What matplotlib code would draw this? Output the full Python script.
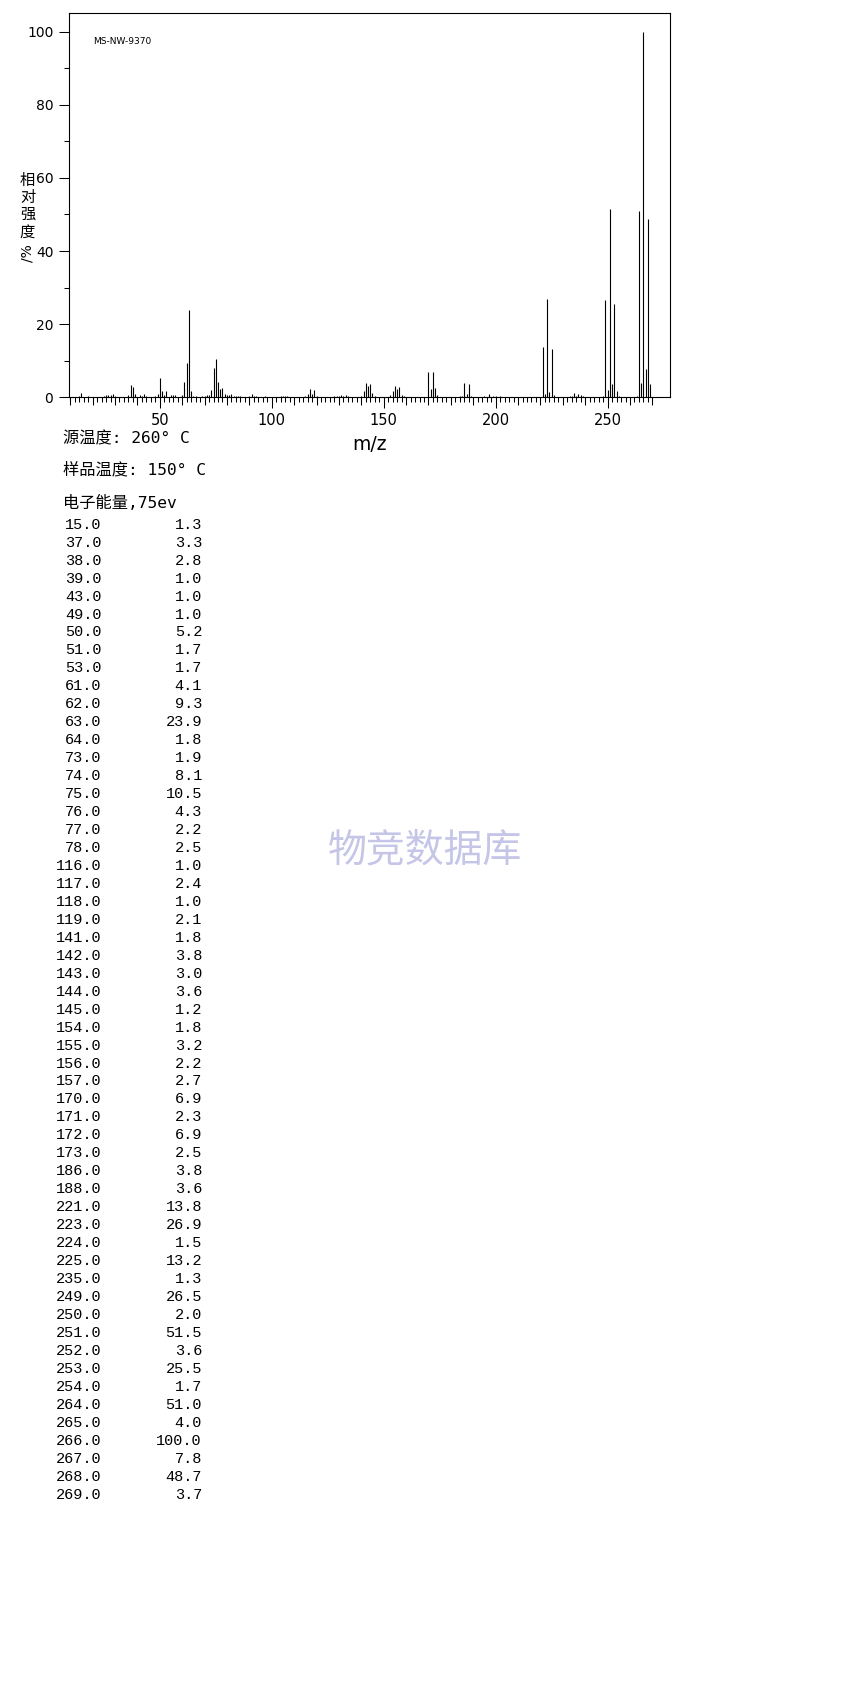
import matplotlib
matplotlib.use('Agg')
import matplotlib.pyplot as plt
from matplotlib.ticker import FixedLocator, NullFormatter

# ---------------- data ----------------
table_mz = [15, 37, 38, 39, 43, 49, 50, 51, 53, 61, 62, 63, 64, 73, 74, 75, 76, 77, 78,
            116, 117, 118, 119, 141, 142, 143, 144, 145, 154, 155, 156, 157,
            170, 171, 172, 173, 186, 188, 221, 223, 224, 225, 235,
            249, 250, 251, 252, 253, 254, 264, 265, 266, 267, 268, 269]
table_int = [1.3, 3.3, 2.8, 1.0, 1.0, 1.0, 5.2, 1.7, 1.7, 4.1, 9.3, 23.9, 1.8, 1.9, 8.1, 10.5, 4.3, 2.2, 2.5,
             1.0, 2.4, 1.0, 2.1, 1.8, 3.8, 3.0, 3.6, 1.2, 1.8, 3.2, 2.2, 2.7,
             6.9, 2.3, 6.9, 2.5, 3.8, 3.6, 13.8, 26.9, 1.5, 13.2, 1.3,
             26.5, 2.0, 51.5, 3.6, 25.5, 1.7, 51.0, 4.0, 100.0, 7.8, 48.7, 3.7]

# small peaks (< 1 %) visible in the plot but not listed
minor_mz = [14, 18, 25, 26, 27, 28, 29, 30, 36, 41, 42, 44, 48, 52, 55, 56, 57, 60, 65, 66,
            69, 70, 71, 72, 79, 80, 81, 82, 83, 84, 85, 86, 90, 91, 92, 93, 97,
            104, 105, 106, 107, 115, 120, 128, 129, 130, 131, 132, 133, 134, 140, 146,
            153, 158, 159, 174, 184, 185, 187, 189, 195, 197, 199, 200, 202,
            222, 226, 233, 234, 236, 237, 238, 239, 248, 255, 263]
minor_int = [0.4, 0.3, 0.4, 0.6, 0.6, 0.6, 0.8, 0.4, 0.6, 0.5, 0.3, 0.4, 0.4, 0.7, 0.5, 0.5, 0.5, 0.6, 0.4, 0.3,
             0.3, 0.3, 0.5, 0.6, 0.8, 0.7, 0.5, 0.8, 0.4, 0.4, 0.4, 0.4, 0.4, 0.8, 0.4, 0.4, 0.3,
             0.3, 0.4, 0.4, 0.3, 0.4, 0.4, 0.4, 0.4, 0.4, 0.5, 0.3, 0.5, 0.3, 0.4, 0.4,
             0.6, 0.5, 0.3, 0.6, 0.3, 0.4, 0.8, 0.3, 0.3, 0.9, 0.4, 0.4, 0.3,
             0.9, 0.6, 0.4, 0.3, 0.3, 0.8, 0.5, 0.3, 0.3, 0.3, 0.3]

y_ticks = [0, 20, 40, 60, 80, 100]
x_ticks = [50, 100, 150, 200, 250]
x_mid_ticks = list(range(10, 271, 10))
x_minor_ticks = list(range(10, 271, 2))
y_minor_ticks = list(range(0, 101, 10))

header_lines = ["源温度: 260° C", "样品温度: 150° C", "电子能量,75ev"]
sample_id = "MS-NW-9370"
watermark = "物竞数据库"
ylabel_chars = "相对强度"
ylabel_unit = "/%"
xlabel = "m/z"

# ---------------- figure ----------------
W, H = 850, 1701
fig = plt.figure(figsize=(8.5, 17.01), dpi=100)
fig.patch.set_facecolor('white')


def fx(px):
    return px / W


def fy(py):
    return 1 - py / H


CJK = ['Noto Sans CJK SC', 'DejaVu Sans']
MONO_CJK = ['DejaVu Sans Mono', 'Noto Sans CJK SC']

ax = fig.add_axes([fx(69.3), fy(397.3), fx(670.3) - fx(69.3), fy(13.3) - fy(397.3)])
ax.vlines(table_mz + minor_mz, 0, table_int + minor_int, color='black', linewidth=0.8)
ax.set_xlim(9.6, 278)
ax.set_ylim(0, 105)

for s in ax.spines.values():
    s.set_linewidth(0.8)
    s.set_color('black')

ax.set_xticks(x_ticks)
ax.set_xticklabels([str(t) for t in x_ticks])
ax.xaxis.set_minor_locator(FixedLocator(x_minor_ticks))
ax.set_yticks(y_ticks)
ax.set_yticklabels([str(t) for t in y_ticks])
ax.yaxis.set_minor_locator(FixedLocator(y_minor_ticks))
ax.yaxis.set_minor_formatter(NullFormatter())
ax.xaxis.set_minor_formatter(NullFormatter())

ax.tick_params(axis='x', which='major', length=7.9, width=0.75, pad=3.4, labelsize=10.5)
ax.tick_params(axis='x', which='minor', length=3.6, width=0.75)
ax.tick_params(axis='y', which='major', length=7.2, width=0.75, pad=4.3, labelsize=10)
ax.tick_params(axis='y', which='minor', length=3.6, width=0.75)

sec = ax.secondary_xaxis('bottom')
sec.set_xticks(x_mid_ticks)
sec.tick_params(axis='x', which='major', length=5.8, width=0.75, labelbottom=False)
sec.spines['bottom'].set_visible(False)

ax.text(0.039, 0.927, sample_id, transform=ax.transAxes, fontsize=6.5, va='center', ha='left',
        family='DejaVu Sans')

# y label: stacked characters + rotated unit
for i, ch in enumerate(ylabel_chars):
    fig.text(fx(27.5), fy(180 + i * 17.3), ch, ha='center', va='center', fontsize=11, family=CJK)
fig.text(fx(27.5), fy(253), ylabel_unit, ha='center', va='center', fontsize=10, rotation=90,
         family='DejaVu Sans')

# x label
fig.text(fx(370), fy(445), xlabel, ha='center', va='center', fontsize=13.5, family='DejaVu Sans')

# header lines
for y, line in zip([443.5, 474.5, 507.5], header_lines):
    fig.text(fx(63), fy(y), line, ha='left', va='baseline', fontsize=11.7, family=MONO_CJK)

# peak table
for i, (m, v) in enumerate(zip(table_mz, table_int)):
    yb = 524 + i * 17.96 + 4.7
    fig.text(fx(101.5), fy(yb), f"{m:.1f}", ha='right', va='baseline', fontsize=11,
             family='Liberation Mono')
    fig.text(fx(202), fy(yb), f"{v:.1f}", ha='right', va='baseline', fontsize=11,
             family='Liberation Mono')

# watermark
fig.text(fx(425), fy(851), watermark, ha='center', va='center', fontsize=28, color='#c5c5e8',
         family=CJK)

fig.savefig('out.png', dpi=100, facecolor='white')
